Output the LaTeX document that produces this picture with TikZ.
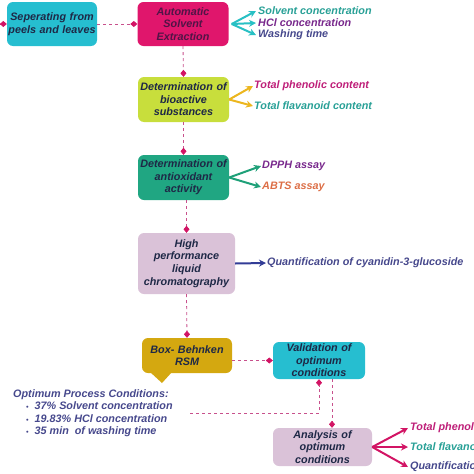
\documentclass[tikz,border=0pt]{standalone}
\usepackage{fontspec}
\setmainfont{Liberation Sans}
\usepackage{xcolor}
\usetikzlibrary{arrows.meta}

\definecolor{tealbox}{RGB}{38,190,208}
\definecolor{magbox}{RGB}{224,22,108}
\definecolor{limebox}{RGB}{200,222,60}
\definecolor{greenbox}{RGB}{32,166,130}
\definecolor{mauvebox}{RGB}{218,194,216}
\definecolor{goldbox}{RGB}{212,168,16}
\definecolor{navytxt}{RGB}{30,40,70}
\definecolor{plumtxt}{RGB}{80,20,70}
\definecolor{linkcol}{RGB}{200,80,140}
\definecolor{diamcol}{RGB}{210,20,100}
\definecolor{tealtxt}{RGB}{40,160,150}
\definecolor{purptxt}{RGB}{120,40,140}
\definecolor{slatetxt}{RGB}{70,72,140}
\definecolor{orangetxt}{RGB}{220,110,70}
\definecolor{magtxt}{RGB}{190,30,120}
\definecolor{tealarr}{RGB}{40,192,196}
\definecolor{goldarr}{RGB}{236,182,30}
\definecolor{greenarr}{RGB}{30,160,120}
\definecolor{navyarr}{RGB}{50,60,150}

\begin{document}
\begin{tikzpicture}[x=1pt, y=-1pt,
    every node/.style={font=\fontsize{10.8}{12.6}\selectfont\bfseries\itshape},
    stepbox/.style={rounded corners=6pt, inner sep=0pt, align=center, text=navytxt},
    link/.style={draw=linkcol, line width=0.8pt, dash pattern=on 3pt off 3pt,
        -{Diamond[length=7pt, width=6pt, color=diamcol]}},
    fan/.style={line width=2pt, -{Stealth[length=7pt, width=7pt]}},
    result/.style={anchor=west, inner sep=0pt}]
        \clip (0,0) rectangle (474,474);

        % Extraction
        \node[stepbox, fill=tealbox, minimum width=90, minimum height=44, text width=88] (sep) at (52,24) {Seperating from\\peels and leaves};
        \node[stepbox, fill=magbox, minimum width=91, minimum height=44, text width=88, text=plumtxt] (ase) at (183,24) {Automatic\\Solvent\\Extraction};
        \coordinate (leftin) at (-6,24);
        \draw[link] (leftin) -- (sep.west);
        \draw[link] (sep.east) -- (ase.west);

        \node[result, text=tealtxt] (solv) at (258,11) {Solvent concentration};
        \node[result, text=purptxt] (hcl) at (258,23) {HCl concentration};
        \node[result, text=slatetxt] (wash) at (258,35) {Washing time};
        \draw[fan, tealarr] (ase.east) ++(3,0) coordinate (asefan) -- ([xshift=-2]solv.west);
        \draw[fan, tealarr] (asefan) -- ([xshift=-2]hcl.west);
        \draw[fan, tealarr] (asefan) -- ([xshift=-2]wash.west);

        % Bioactive substances
        \node[stepbox, fill=limebox, minimum width=91, minimum height=45, text width=90] (bio) at (183.5,99.5) {Determination of\\bioactive\\substances};
        \draw[link] (ase.south) -- (bio.north);
        \node[result, text=magtxt] (phen) at (254,86) {Total phenolic content};
        \node[result, text=tealtxt] (flav) at (254,106) {Total flavanoid content};
        \draw[fan, goldarr] (bio.east) coordinate (biofan) -- ([xshift=-1]phen.west);
        \draw[fan, goldarr] (biofan) -- ([xshift=-1]flav.west);

        % Antioxidant activity
        \node[stepbox, fill=greenbox, minimum width=91, minimum height=45, text width=90] (anti) at (183.5,177.5) {Determination of\\antioxidant\\activity};
        \draw[link] (bio.south) -- (anti.north);
        \node[result, text=purptxt] (dpph) at (262,166) {DPPH assay};
        \node[result, text=orangetxt] (abts) at (262,187) {ABTS assay};
        \draw[fan, greenarr] (anti.east) coordinate (antifan) -- ([xshift=-1]dpph.west);
        \draw[fan, greenarr] (antifan) -- ([xshift=-1]abts.west);

        % HPLC
        \node[stepbox, fill=mauvebox, minimum width=97, minimum height=61, text width=95] (hplc) at (186.5,263.5) {High\\performance\\liquid\\chromatography};
        \draw[link] (anti.south -| hplc.north) -- (hplc.north);
        \node[result, text=slatetxt] (cyan) at (267,263) {Quantification of cyanidin-3-glucoside};
        \draw[fan, navyarr] (hplc.east) -- ([xshift=-1]cyan.west);

        % Optimisation
        \node[stepbox, fill=goldbox, minimum width=90, minimum height=35, text width=88] (rsm) at (187,355.5) {Box- Behnken\\RSM};
        \fill[goldbox] (150,372) -- (172,372) -- (162,383) -- cycle;
        \draw[link] (hplc.south) -- (rsm.north);
        \node[stepbox, fill=tealbox, minimum width=92, minimum height=37, text width=90] (valid) at (319,360.5) {Validation of\\optimum\\conditions};
        \draw[link] (rsm.east |- valid.west) -- (valid.west);

        \node[anchor=north west, inner sep=0pt, align=left, text=slatetxt] (opt) at (13,389)
            {Optimum Process Conditions:\\
             \hspace*{13pt}{\scriptsize\textbullet}\hspace{6pt}37\% Solvent concentration\\
             \hspace*{13pt}{\scriptsize\textbullet}\hspace{6pt}19.83\% HCl concentration\\
             \hspace*{13pt}{\scriptsize\textbullet}\hspace{6pt}35 min\ \ of washing time};
        \coordinate (optend) at (190,413);
        \draw[link] (optend) -| (valid.south);

        % Analysis
        \node[stepbox, fill=mauvebox, minimum width=99, minimum height=38, text width=97] (ana) at (322.5,447) {Analysis of\\optimum\\conditions};
        \draw[link] ([xshift=13]valid.south) -- ([xshift=13]valid.south |- ana.north);
        \node[result, text=magtxt] (phen2) at (410,428) {Total phenolic content};
        \node[result, text=tealtxt] (flav2) at (410,447) {Total flavanoid content};
        \node[result, text=slatetxt] (cyan2) at (410,467) {Quantification of cyanidin-3-glucoside};
        \draw[fan, diamcol] (ana.east) coordinate (anafan) -- ([xshift=-2]phen2.west);
        \draw[fan, diamcol] (anafan) -- ([xshift=-2]flav2.west);
        \draw[fan, diamcol] (anafan) -- ([xshift=-2]cyan2.west);
\end{tikzpicture}
\end{document}
